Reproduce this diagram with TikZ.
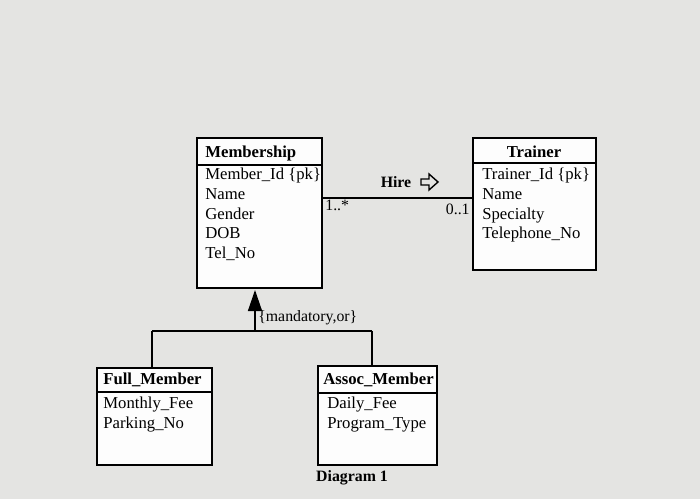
\documentclass[tikz,border=0pt]{standalone}
\usepackage{fontspec}
\setmainfont{Liberation Serif}
\usetikzlibrary{arrows.meta,positioning,calc}
\definecolor{paper}{HTML}{E4E4E2}
\tikzset{
  cls/.style={draw,thick,fill=white!92!paper},
  ttl/.style={font=\bfseries\fontsize{9.5}{11}\selectfont,inner sep=0pt},
  att/.style={font=\fontsize{9.5}{11.2}\selectfont,align=left,anchor=north west,inner sep=0pt},
  lbl/.style={font=\fontsize{9}{10}\selectfont,inner sep=0pt}
}
\begin{document}
\begin{tikzpicture}[x=0.02cm,y=-0.02cm,>=Latex]
  \useasboundingbox (0,0) rectangle (700,499);
  \fill[paper] (0,0) rectangle (700,499);
  % classes
  \draw[cls] (197,138) rectangle (322,288); \draw[thick] (197,165) -- (322,165);
  \node[ttl,anchor=west] (memT) at (205,153) {Membership};
  \node[att] (memA) at (205,168) {Member\_Id \{pk\}\\Name\\Gender\\DOB\\Tel\_No};
  \draw[cls] (473,138) rectangle (596,270); \draw[thick] (473,163) -- (596,163);
  \node[ttl] (trT) at (534,152) {Trainer};
  \node[att] (trA) at (482,168) {Trainer\_Id \{pk\}\\Name\\Specialty\\Telephone\_No};
  \draw[cls] (97,368) rectangle (212,465); \draw[thick] (97,392) -- (212,392);
  \node[ttl,anchor=west] (fmT) at (103,380) {Full\_Member};
  \node[att] (fmA) at (103,397) {Monthly\_Fee\\Parking\_No};
  \draw[cls] (318,366) rectangle (437,465); \draw[thick] (318,393) -- (437,393);
  \node[ttl,anchor=west] (amT) at (323,380) {Assoc\_Member};
  \node[att] (amA) at (327,397) {Daily\_Fee\\Program\_Type};
  % association
  \coordinate (a1) at (322,198); \coordinate (a2) at (473,198);
  \draw[thick] (a1) -- (a2);
  \node[lbl,anchor=west] (m1) at (325,205) {1..*};
  \node[lbl,anchor=east] (m2) at (470,209) {0..1};
  \node[lbl,font=\bfseries\fontsize{9}{10}\selectfont] (hire) at (396,182) {Hire};
  \draw[thick,line join=miter] (421,179) -- (429,179) -- (429,174) -- (438,182) -- (429,190) -- (429,185) -- (421,185) -- cycle;
  % generalization
  \coordinate (g0) at (255,290); \coordinate (g1) at (255,331);
  \coordinate (gl) at (152,331); \coordinate (gr) at (372,331);
  \draw[thick] (g1) -- (255,305);
  \draw[-{Triangle[length=12pt,width=8pt]},thick] (255,306) -- (g0);
  \draw[thick] (gl) -- (gr);
  \draw[thick] (gl) -- (152,368);
  \draw[thick] (gr) -- (372,366);
  \node[lbl,anchor=west] (cons) at (258,318) {\{mandatory,or\}};
  \node[lbl,font=\bfseries\fontsize{9}{10}\selectfont] (cap) at (352,478) {Diagram 1};
\end{tikzpicture}
\end{document}
